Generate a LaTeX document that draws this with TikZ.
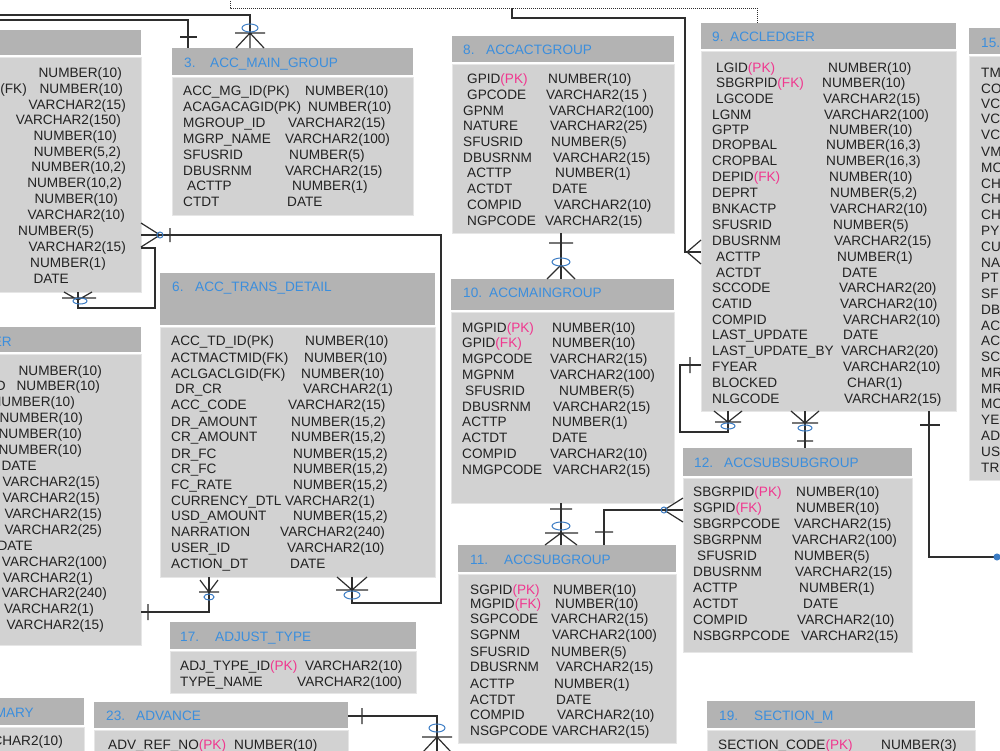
\documentclass[tikz,border=0pt]{standalone}
\usepackage{fontspec}
\setmainfont{Liberation Sans}
\definecolor{hdrgray}{HTML}{B3B3B3}
\definecolor{bodygray}{HTML}{D2D2D2}
\definecolor{rimgray}{HTML}{E6E6E6}
\definecolor{titleblue}{HTML}{3B8EDD}
\definecolor{pkpink}{HTML}{F0378F}
\definecolor{txtcol}{HTML}{222222}
\definecolor{linecol}{HTML}{2E2E2E}
\definecolor{circblue}{HTML}{3B7CC4}
\newcounter{fldc}
\newcommand\tabfont{\fontsize{13.6}{16}\selectfont}
\newcommand\PK{\textcolor{pkpink}{(PK)}}
\newcommand\FK{\textcolor{pkpink}{(FK)}}
\newcommand\fldw[3]{\stepcounter{fldc}\node[fld] (f\arabic{fldc}) at (#1,#2+5) {#3};}
\newcommand\flde[3]{\stepcounter{fldc}\node[fld, anchor=base east] (f\arabic{fldc}) at (#1,#2+5) {#3};}
\newcommand\ttlw[3]{\stepcounter{fldc}\node[ttl] (f\arabic{fldc}) at (#1,#2+5) {#3};}
\newcommand\ttle[3]{\stepcounter{fldc}\node[ttl, anchor=base east] (f\arabic{fldc}) at (#1,#2+5) {#3};}
\newcommand\mktbl[6]{%
 \node[hdr, minimum width={#5-(#2)}, minimum height={#4-(#3)}] (#1h) at (#2,#3) {};
 \node[bdy, minimum width={#5-(#2)}, minimum height={#6-(#4)-2}] (#1) at (#2,#4+2) {};}
\tikzset{
 hdr/.style={anchor=north west, fill=hdrgray, inner sep=0, outer sep=0},
 bdy/.style={anchor=north west, fill=bodygray, draw=rimgray, line width=0.8pt, inner sep=0, outer sep=0},
 fld/.style={anchor=base west, inner sep=0, text=txtcol, font=\tabfont},
 ttl/.style={anchor=base west, inner sep=0, text=titleblue, font=\tabfont},
 con/.style={draw=linecol, line width=1.5pt},
 mk/.style={draw=linecol, line width=1.2pt},
 zc/.style={draw=circblue, line width=1pt},
 dots/.style={draw=linecol, line width=1pt, densely dotted},
}
\begin{document}
\begin{tikzpicture}[x=1pt,y=-1pt]
\useasboundingbox (0,0) rectangle (1000,750);
\fill[white] (0,0) rectangle (1000,750);
% ---------- tables ----------
\mktbl{tA}{-10}{30}{55}{141}{292}
\mktbl{t3}{172}{48}{75}{413}{215}
\mktbl{t8}{452}{36}{62}{674}{233}
\mktbl{t9}{701}{23}{49}{956}{411}
\mktbl{t15}{969}{28}{54}{1010}{480}
\mktbl{tB}{-10}{327}{352}{141}{645}
\mktbl{t6}{160}{273}{325}{435}{577}
\mktbl{t10}{451}{279}{310}{674}{503}
\mktbl{t12}{683}{448}{476}{912}{652}
\mktbl{t11}{458}{545}{572}{676}{743}
\mktbl{t17}{170}{622}{649}{416}{693}
\mktbl{t23}{94}{702}{728}{348}{760}
\mktbl{tM}{-10}{698}{725}{84}{760}
\mktbl{t19}{707}{701}{728}{975}{760}
% ---------- table A (cut) ----------
\flde{122}{72}{NUMBER(10)}
\flde{27}{88}{(FK)}\flde{123}{88}{NUMBER(10)}
\flde{126}{104}{VARCHAR2(15)}
\flde{121}{119}{VARCHAR2(150)}
\flde{117}{135}{NUMBER(10)}
\flde{121}{151}{NUMBER(5,2)}
\flde{126}{166}{NUMBER(10,2)}
\flde{122}{182}{NUMBER(10,2)}
\flde{118}{198}{NUMBER(10)}
\flde{125}{214}{VARCHAR2(10)}
\flde{94}{230}{NUMBER(5)}
\flde{126}{246}{VARCHAR2(15)}
\flde{106}{262}{NUMBER(1)}
\flde{69}{278}{DATE}
% ---------- table 3 ----------
\ttlw{184}{62}{3.}\ttlw{210}{62}{ACC\_MAIN\_GROUP}
\fldw{183}{90}{ACC\_MG\_ID(PK)}\fldw{305}{90}{NUMBER(10)}
\fldw{183}{106}{ACAGACAGID(PK)}\fldw{308}{106}{NUMBER(10)}
\fldw{183}{122}{MGROUP\_ID}\fldw{288}{122}{VARCHAR2(15)}
\fldw{183}{138}{MGRP\_NAME}\fldw{285}{138}{VARCHAR2(100)}
\fldw{183}{154}{SFUSRID}\fldw{289}{154}{NUMBER(5)}
\fldw{183}{170}{DBUSRNM}\fldw{285}{170}{VARCHAR2(15)}
\fldw{187}{185}{ACTTP}\fldw{292}{185}{NUMBER(1)}
\fldw{183}{201}{CTDT}\fldw{287}{201}{DATE}
% ---------- table 8 ----------
\ttlw{463}{49}{8.}\ttlw{486}{49}{ACCACTGROUP}
\fldw{467}{78}{GPID\PK}\fldw{548}{78}{NUMBER(10)}
\fldw{467}{94}{GPCODE}\fldw{546}{94}{VARCHAR2(15 )}
\fldw{463}{110}{GPNM}\fldw{549}{110}{VARCHAR2(100)}
\fldw{463}{125}{NATURE}\fldw{550}{125}{VARCHAR2(25)}
\fldw{463}{141}{SFUSRID}\fldw{551}{141}{NUMBER(5)}
\fldw{463}{157}{DBUSRNM}\fldw{553}{157}{VARCHAR2(15)}
\fldw{467}{172}{ACTTP}\fldw{555}{172}{NUMBER(1)}
\fldw{467}{188}{ACTDT}\fldw{552}{188}{DATE}
\fldw{467}{204}{COMPID}\fldw{554}{204}{VARCHAR2(10)}
\fldw{467}{220}{NGPCODE}\fldw{545}{220}{VARCHAR2(15)}
% ---------- table 9 ----------
\ttlw{712}{36}{9.}\ttlw{730}{36}{ACCLEDGER}
\fldw{716}{67}{LGID\PK}\fldw{828}{67}{NUMBER(10)}
\fldw{716}{82}{SBGRPID\FK}\fldw{822}{82}{NUMBER(10)}
\fldw{716}{98}{LGCODE}\fldw{823}{98}{VARCHAR2(15)}
\fldw{712}{114}{LGNM}\fldw{824}{114}{VARCHAR2(100)}
\fldw{712}{129}{GPTP}\fldw{829}{129}{NUMBER(10)}
\fldw{712}{144}{DROPBAL}\fldw{826}{144}{NUMBER(16,3)}
\fldw{712}{160}{CROPBAL}\fldw{826}{160}{NUMBER(16,3)}
\fldw{712}{176}{DEPID\FK}\fldw{829}{176}{NUMBER(10)}
\fldw{712}{192}{DEPRT}\fldw{830}{192}{NUMBER(5,2)}
\fldw{712}{208}{BNKACTP}\fldw{830}{208}{VARCHAR2(10)}
\fldw{712}{224}{SFUSRID}\fldw{833}{224}{NUMBER(5)}
\fldw{712}{240}{DBUSRNM}\fldw{834}{240}{VARCHAR2(15)}
\fldw{716}{256}{ACTTP}\fldw{837}{256}{NUMBER(1)}
\fldw{716}{272}{ACTDT}\fldw{842}{272}{DATE}
\fldw{712}{287}{SCCODE}\fldw{839}{287}{VARCHAR2(20)}
\fldw{712}{303}{CATID}\fldw{840}{303}{VARCHAR2(10)}
\fldw{712}{319}{COMPID}\fldw{843}{319}{VARCHAR2(10)}
\fldw{712}{334}{LAST\_UPDATE}\fldw{843}{334}{DATE}
\fldw{712}{350}{LAST\_UPDATE\_BY}\fldw{841}{350}{VARCHAR2(20)}
\fldw{712}{366}{FYEAR}\fldw{843}{366}{VARCHAR2(10)}
\fldw{712}{382}{BLOCKED}\fldw{847}{382}{CHAR(1)}
\fldw{712}{398}{NLGCODE}\fldw{844}{398}{VARCHAR2(15)}
% ---------- table 15 (cut) ----------
\ttlw{981}{42}{15.}
\fldw{981}{72}{TM}\fldw{981}{88}{CO}\fldw{981}{103}{VC}\fldw{981}{118}{VC}
\fldw{981}{134}{VC}\fldw{981}{151}{VM}\fldw{981}{167}{MC}\fldw{981}{183}{CH}
\fldw{981}{198}{CH}\fldw{981}{214}{CH}\fldw{981}{230}{PY}\fldw{981}{246}{CU}
\fldw{981}{262}{NA}\fldw{981}{277}{PT}\fldw{981}{293}{SF}\fldw{981}{309}{DB}
\fldw{981}{325}{AC}\fldw{981}{340}{AC}\fldw{981}{356}{SC}\fldw{981}{372}{MR}
\fldw{981}{388}{MR}\fldw{981}{403}{MC}\fldw{981}{419}{YE}\fldw{981}{435}{AD}
\fldw{981}{451}{US}\fldw{981}{467}{TR}
% ---------- table B (cut) ----------
\ttle{12}{341}{ER}
\flde{102}{370}{NUMBER(10)}
\flde{6}{385}{D}\flde{100}{385}{NUMBER(10)}
\flde{75}{401}{NUMBER(10)}
\flde{83}{417}{NUMBER(10)}
\flde{82}{433}{NUMBER(10)}
\flde{82}{449}{NUMBER(10)}
\flde{37}{465}{DATE}
\flde{100}{481}{VARCHAR2(15)}
\flde{100}{497}{VARCHAR2(15)}
\flde{102}{513}{VARCHAR2(15)}
\flde{102}{529}{VARCHAR2(25)}
\flde{33}{545}{DATE}
\flde{107}{561}{VARCHAR2(100)}
\flde{93}{577}{VARCHAR2(1)}
\flde{107}{592}{VARCHAR2(240)}
\flde{94}{608}{VARCHAR2(1)}
\flde{104}{624}{VARCHAR2(15)}
% ---------- table 6 ----------
\ttlw{172}{286}{6.}\ttlw{195}{286}{ACC\_TRANS\_DETAIL}
\fldw{171}{340}{ACC\_TD\_ID(PK)}\fldw{305}{340}{NUMBER(10)}
\fldw{171}{357}{ACTMACTMID(FK)}\fldw{304}{357}{NUMBER(10)}
\fldw{171}{373}{ACLGACLGID(FK)}\fldw{301}{373}{NUMBER(10)}
\fldw{175}{388}{DR\_CR}\fldw{303}{388}{VARCHAR2(1)}
\fldw{171}{404}{ACC\_CODE}\fldw{288}{404}{VARCHAR2(15)}
\fldw{171}{421}{DR\_AMOUNT}\fldw{291}{421}{NUMBER(15,2)}
\fldw{171}{436}{CR\_AMOUNT}\fldw{291}{436}{NUMBER(15,2)}
\fldw{171}{453}{DR\_FC}\fldw{293}{453}{NUMBER(15,2)}
\fldw{171}{468}{CR\_FC}\fldw{293}{468}{NUMBER(15,2)}
\fldw{171}{484}{FC\_RATE}\fldw{293}{484}{NUMBER(15,2)}
\fldw{171}{500}{CURRENCY\_DTL}\fldw{285}{500}{VARCHAR2(1)}
\fldw{171}{515}{USD\_AMOUNT}\fldw{293}{515}{NUMBER(15,2)}
\fldw{171}{531}{NARRATION}\fldw{280}{531}{VARCHAR2(240)}
\fldw{171}{547}{USER\_ID}\fldw{287}{547}{VARCHAR2(10)}
\fldw{171}{563}{ACTION\_DT}\fldw{290}{563}{DATE}
% ---------- table 10 ----------
\ttlw{463}{292}{10.}\ttlw{489}{292}{ACCMAINGROUP}
\fldw{462}{327}{MGPID\PK}\fldw{552}{327}{NUMBER(10)}
\fldw{462}{342}{GPID\FK}\fldw{552}{342}{NUMBER(10)}
\fldw{462}{358}{MGPCODE}\fldw{550}{358}{VARCHAR2(15)}
\fldw{462}{374}{MGPNM}\fldw{550}{374}{VARCHAR2(100)}
\fldw{465}{390}{SFUSRID}\fldw{559}{390}{NUMBER(5)}
\fldw{462}{406}{DBUSRNM}\fldw{553}{406}{VARCHAR2(15)}
\fldw{462}{421}{ACTTP}\fldw{552}{421}{NUMBER(1)}
\fldw{462}{437}{ACTDT}\fldw{552}{437}{DATE}
\fldw{462}{453}{COMPID}\fldw{550}{453}{VARCHAR2(10)}
\fldw{462}{469}{NMGPCODE}\fldw{553}{469}{VARCHAR2(15)}
% ---------- table 12 ----------
\ttlw{694}{462}{12.}\ttlw{724}{462}{ACCSUBSUBGROUP}
\fldw{693}{491}{SBGRPID\PK}\fldw{796}{491}{NUMBER(10)}
\fldw{693}{507}{SGPID\FK}\fldw{796}{507}{NUMBER(10)}
\fldw{693}{523}{SBGRPCODE}\fldw{794}{523}{VARCHAR2(15)}
\fldw{693}{539}{SBGRPNM}\fldw{792}{539}{VARCHAR2(100)}
\fldw{697}{555}{SFUSRID}\fldw{794}{555}{NUMBER(5)}
\fldw{693}{571}{DBUSRNM}\fldw{795}{571}{VARCHAR2(15)}
\fldw{693}{587}{ACTTP}\fldw{799}{587}{NUMBER(1)}
\fldw{693}{603}{ACTDT}\fldw{803}{603}{DATE}
\fldw{693}{619}{COMPID}\fldw{797}{619}{VARCHAR2(10)}
\fldw{693}{635}{NSBGRPCODE}\fldw{801}{635}{VARCHAR2(15)}
% ---------- table 11 ----------
\ttlw{470}{559}{11.}\ttlw{504}{559}{ACCSUBGROUP}
\fldw{470}{589}{SGPID\PK}\fldw{553}{589}{NUMBER(10)}
\fldw{470}{603}{MGPID\FK}\fldw{555}{603}{NUMBER(10)}
\fldw{470}{618}{SGPCODE}\fldw{551}{618}{VARCHAR2(15)}
\fldw{470}{634}{SGPNM}\fldw{552}{634}{VARCHAR2(100)}
\fldw{470}{651}{SFUSRID}\fldw{551}{651}{NUMBER(5)}
\fldw{470}{666}{DBUSRNM}\fldw{556}{666}{VARCHAR2(15)}
\fldw{470}{683}{ACTTP}\fldw{554}{683}{NUMBER(1)}
\fldw{470}{699}{ACTDT}\fldw{556}{699}{DATE}
\fldw{470}{714}{COMPID}\fldw{557}{714}{VARCHAR2(10)}
\fldw{470}{730}{NSGPCODE}\fldw{552}{730}{VARCHAR2(15)}
% ---------- table 17 ----------
\ttlw{180}{636}{17.}\ttlw{215}{636}{ADJUST\_TYPE}
\fldw{180}{665}{ADJ\_TYPE\_ID\PK}\fldw{305}{665}{VARCHAR2(10)}
\fldw{180}{681}{TYPE\_NAME}\fldw{297}{681}{VARCHAR2(100)}
% ---------- table 23 ----------
\ttlw{106}{715}{23.}\ttlw{136}{715}{ADVANCE}
\fldw{108}{744}{ADV\_REF\_NO\PK}\fldw{234}{744}{NUMBER(10)}
% ---------- table (cut, bottom left) ----------
\ttle{34}{712}{MARY}
\flde{63}{740}{VARCHAR2(10)}
% ---------- table 19 ----------
\ttlw{719}{715}{19.}\ttlw{754}{715}{SECTION\_M}
\fldw{718}{744}{SECTION\_CODE\PK}\fldw{881}{744}{NUMBER(3)}
% ---------- connectors ----------
% C1
\coordinate (c1s) at (-5,20); \coordinate (c1e) at (188,48);
\draw[con] (c1s) -| (c1e);
\draw[mk] (180,37) -- (197,37);
% C2
\coordinate (c2s) at (-5,15); \coordinate (c2e) at (250,48);
\draw[con] (c2s) -| (250,33);
\draw[mk] (235,33)--(265,33) (236,48)--(250,33)--(264,48) (250,33)--(c2e);
\draw[zc] (250,28) ellipse [x radius=8pt, y radius=4pt];
% dotted
\coordinate (ds) at (230,-5); \coordinate (de) at (757,23);
\draw[dots] (ds) -- (230,8) -- (757,8) -- (de);
% C3
\coordinate (c3s) at (512,8); \coordinate (c3e) at (701,252);
\draw[con] (c3s) -- (512,18) -- (685,18) |- (c3e);
\draw[mk] (701,240)--(687,252)--(701,264);
% C4
\coordinate (c4s) at (141,235); \coordinate (c4e) at (352,577);
\draw[con] (c4s) -- (441,235) -- (441,603) -| (c4e);
\draw[mk] (141,223)--(160,235)--(141,247) (170,228)--(170,242);
\draw[zc] (160,235) circle [radius=3pt];
\draw[mk] (337,577)--(352,590)--(367,577) (336,590)--(368,590);
\draw[zc] (352,595) ellipse [x radius=8pt, y radius=4pt];
% C5 (self)
\coordinate (c5s) at (141,248); \coordinate (c5e) at (78,292);
\draw[con] (c5s) -- (155,248) -- (155,308) -| (c5e);
\draw[mk] (64,292)--(78,300)--(92,292) (62,298)--(96,298);
\draw[zc] (80,301) ellipse [x radius=7pt, y radius=3pt];
% C6
\coordinate (c6s) at (141,612); \coordinate (c6e) at (209,577);
\draw[con] (c6s) -| (c6e);
\draw[mk] (148,604)--(148,620) (200,580)--(209,592)--(218,580) (199,592)--(219,592);
\draw[zc] (209,597) ellipse [x radius=5pt, y radius=3pt];
% C7
\coordinate (c7s) at (561,233); \coordinate (c7e) at (561,279);
\draw[con] (c7s) -- (c7e);
\draw[mk] (549,243)--(573,243) (547,279)--(561,265)--(575,279);
\draw[zc] (561,262) ellipse [x radius=9pt, y radius=4pt];
% C8
\coordinate (c8s) at (561,503); \coordinate (c8e) at (561,545);
\draw[con] (c8s) -- (c8e);
\draw[mk] (550,509)--(572,509) (545,533)--(578,533) (545,545)--(561,533)--(577,545);
\draw[zc] (561,526) ellipse [x radius=9pt, y radius=4pt];
% C9
\coordinate (c9s) at (604,545); \coordinate (c9e) at (683,510);
\draw[con] (c9s) |- (c9e);
\draw[mk] (595,532)--(613,532) (683,498)--(664,510)--(683,522);
\draw[zc] (664,510) circle [radius=3pt];
% C10 (self)
\coordinate (c10s) at (701,365); \coordinate (c10e) at (728,411);
\draw[con] (c10s) -- (680,365) -- (680,432) -| (c10e);
\draw[mk] (690,357)--(690,373) (714,411)--(728,422)--(742,411) (715,422)--(741,422);
\draw[zc] (728,426) ellipse [x radius=7pt, y radius=3pt];
% C11
\coordinate (c11s) at (805,411); \coordinate (c11e) at (805,448);
\draw[con] (c11s) -- (c11e);
\draw[mk] (791,411)--(805,423)--(819,411) (792,423)--(818,423) (797,441)--(813,441);
\draw[zc] (805,428) ellipse [x radius=7pt, y radius=3pt];
% C12
\coordinate (c12s) at (929,411); \coordinate (c12e) at (1010,557);
\draw[con] (c12s) |- (c12e);
\draw[mk] (920,425)--(940,425);
\draw[zc, fill=circblue] (997,557) circle [radius=3pt];
% C13
\coordinate (c13s) at (348,716); \coordinate (c13e) at (437,760);
\draw[con] (c13s) -| (c13e);
\draw[mk] (362,708)--(362,724) (422,737)--(452,737) (423,752)--(437,737)--(451,752);
\draw[zc] (437,728) ellipse [x radius=8pt, y radius=4pt];
\end{tikzpicture}
\end{document}
